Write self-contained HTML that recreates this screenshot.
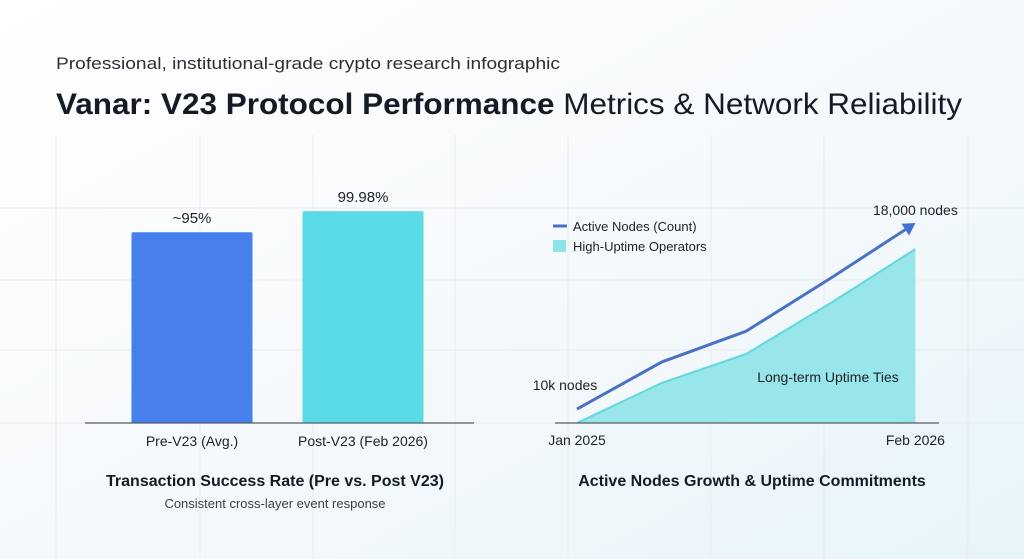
<!DOCTYPE html>
<html><head><meta charset="utf-8"><style>
html,body{margin:0;padding:0;width:1024px;height:559px;overflow:hidden;font-family:"Liberation Sans",sans-serif;}
svg{display:block}
</style></head><body>
<svg width="1024" height="559" viewBox="0 0 1024 559">
<defs>
<linearGradient id="bg" x1="0" y1="0" x2="1" y2="1">
<stop offset="0" stop-color="#ffffff"/><stop offset="0.6" stop-color="#f4f8fb"/><stop offset="1" stop-color="#e6f5f9"/>
</linearGradient>
</defs>
<rect width="1024" height="559" fill="url(#bg)"/>
<g id="grid" stroke="#e8ecf0" stroke-width="1">
<line x1="56" y1="135" x2="56" y2="559"/><line x1="200" y1="135" x2="200" y2="559"/><line x1="313" y1="135" x2="313" y2="559"/><line x1="455" y1="135" x2="455" y2="559"/>
<line x1="568" y1="135" x2="568" y2="559"/><line x1="711" y1="135" x2="711" y2="559"/><line x1="824" y1="135" x2="824" y2="559"/><line x1="968" y1="135" x2="968" y2="559"/>
<line x1="0" y1="208" x2="1024" y2="208"/><line x1="0" y1="280" x2="1024" y2="280"/><line x1="0" y1="350" x2="1024" y2="350"/><line x1="0" y1="423" x2="1024" y2="423"/>
</g>
<text x="56" y="69" font-size="17" fill="#2b2f36" textLength="504" lengthAdjust="spacingAndGlyphs">Professional, institutional-grade crypto research infographic</text>
<text x="56" y="114" font-size="30" fill="#151b26" textLength="906" lengthAdjust="spacingAndGlyphs"><tspan font-weight="bold">Vanar: V23 Protocol Performance</tspan> Metrics &amp; Network Reliability</text>

<g id="bar-chart"></g>
<g id="line-chart"></g>

<text x="275" y="486" font-size="16" font-weight="bold" fill="#151b26" text-anchor="middle">Transaction Success Rate (Pre vs. Post V23)</text>
<text x="275" y="508" font-size="13" fill="#3a3f47" text-anchor="middle">Consistent cross-layer event response</text>
<text x="752" y="486" font-size="16" font-weight="bold" fill="#151b26" text-anchor="middle">Active Nodes Growth &amp; Uptime Commitments</text>
</svg>
<script>
const NS="http://www.w3.org/2000/svg";
const barCategories=["Pre-V23 (Avg.)","Post-V23 (Feb 2026)"];
const barValues=[95,99.98];
const barLabels=["~95%","99.98%"];
const barColors=["#4680ec","#5bdbe6"];

const lineCategories=["Jan 2025","Apr 2025","Jul 2025","Oct 2025","Feb 2026"];
const activeNodes=[10000,12020,13350,15630,18000];
const uptimeOperators=[9400,11120,12370,14560,16880];
const xTickLabels=["Jan 2025","Feb 2026"];

function mk(tag,attrs,parent,text){const e=document.createElementNS(NS,tag);for(const k in attrs)e.setAttribute(k,attrs[k]);if(text!==undefined)e.textContent=text;parent.appendChild(e);return e;}

// Bar chart
const bc=document.getElementById('bar-chart');
const bBase=423, bMin=50, bK=4.24;
const byScale=v=>bBase-(v-bMin)*bK;
const bxScale=i=>192+i*171;
barValues.forEach((v,i)=>{
  const y=byScale(v);
  const r=mk('rect',{x:bxScale(i)-60.5,y:y,width:121,height:bBase-y,fill:barColors[i],rx:1.5},bc);
  
  
  const t=mk('text',{x:bxScale(i),y:y-9,'font-size':15,fill:'#1d2128','text-anchor':'middle'},bc,barLabels[i]);
  
  
  const c=mk('text',{x:bxScale(i),y:446,'font-size':14,fill:'#1d2128','text-anchor':'middle'},bc,barCategories[i]);
  
  
});
const bax=mk('line',{x1:85,y1:bBase,x2:474,y2:bBase,stroke:'#555b63','stroke-width':1.3},bc);



// Line chart
const lc=document.getElementById('line-chart');
const lBase=423, lMin=9400, lK=0.02325;
const lyScale=v=>lBase-(v-lMin)*lK;
const lxScale=i=>577+i*84.6;
let ad='M'+lxScale(0)+','+lBase;
uptimeOperators.forEach((v,i)=>{ad+=' L'+lxScale(i)+','+lyScale(v);});
ad+=' L'+lxScale(uptimeOperators.length-1)+','+lBase+' Z';
const area=mk('path',{d:ad,fill:'#8ee3e8','fill-opacity':0.9},lc);


const aline=mk('polyline',{points:uptimeOperators.map((v,i)=>lxScale(i)+','+lyScale(v)).join(' '),fill:'none',stroke:'#5fd8e0','stroke-width':2},lc);


const n=activeNodes.length;
const pts=activeNodes.map((v,i)=>[lxScale(i),lyScale(v)]);
const lastX=pts[n-1][0], lastY=pts[n-1][1], prevX=pts[n-2][0], prevY=pts[n-2][1];
const ang=Math.atan2(lastY-prevY,lastX-prevX);
const shaftEnd=[lastX-9*Math.cos(ang),lastY-9*Math.sin(ang)];
const lp=pts.slice(0,n-1).map(p=>p.join(',')).concat([shaftEnd.join(',')]).join(' ');
const line=mk('polyline',{points:lp,fill:'none',stroke:'#4a72c4','stroke-width':3,'stroke-linejoin':'round'},lc);


const ah=12, aw=7;
const bx=lastX-ah*Math.cos(ang), by=lastY-ah*Math.sin(ang);
const arrow=mk('polygon',{points:[lastX+','+lastY,(bx+aw*Math.sin(ang))+','+(by-aw*Math.cos(ang)),(bx-aw*Math.sin(ang))+','+(by+aw*Math.cos(ang))].join(' '),fill:'#3f73d6'},lc);


const lax=mk('line',{x1:555,y1:lBase,x2:939,y2:lBase,stroke:'#555b63','stroke-width':1.3},lc);


[0,n-1].forEach((i,k)=>{
  const t=mk('text',{x:lxScale(i),y:445,'font-size':14,fill:'#1d2128','text-anchor':'middle'},lc,xTickLabels[k]);
  
  
});
const a1=mk('text',{x:pts[0][0]-12,y:pts[0][1]-19,'font-size':14,fill:'#1d2128','text-anchor':'middle'},lc,'10k nodes');


const a2=mk('text',{x:lastX,y:lastY-8,'font-size':14,fill:'#1d2128','text-anchor':'middle'},lc,'18,000 nodes');


const a3=mk('text',{x:828,y:382,'font-size':14,fill:'#1d2128','text-anchor':'middle'},lc,'Long-term Uptime Ties');


// legend
const lg=mk('g',{},lc);


const l1=mk('line',{x1:553,y1:226,x2:567,y2:226,stroke:'#4a72c4','stroke-width':3},lg);


const t1=mk('text',{x:573,y:231,'font-size':13,fill:'#1d2128'},lg,'Active Nodes (Count)');


const l2=mk('rect',{x:553,y:240,width:13,height:12,fill:'#8ee3e8'},lg);


const t2=mk('text',{x:573,y:251,'font-size':13,fill:'#1d2128'},lg,'High-Uptime Operators');


</script>
</body></html>
